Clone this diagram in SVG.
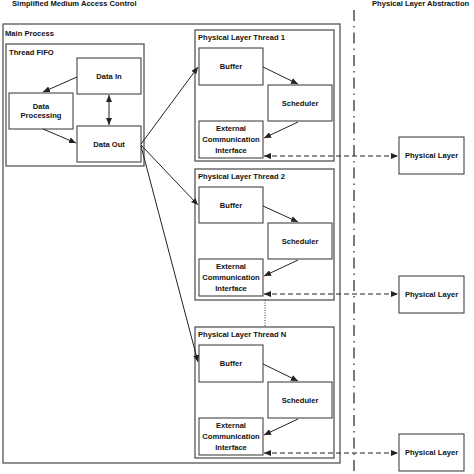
<svg xmlns="http://www.w3.org/2000/svg" width="474" height="474" viewBox="0 0 474 474">
<defs>
<marker id="ah" markerUnits="userSpaceOnUse" markerWidth="8" markerHeight="6" refX="7" refY="3" orient="auto-start-reverse">
<path d="M0,0 L7,3 L0,6 Z" fill="#222"/>
</marker>
</defs>
<style>
.box{fill:#fff;stroke:#444;stroke-width:1.1}
.grp{fill:#fff;stroke:#555;stroke-width:1.3}
.t{font-family:"Liberation Sans",Arial,sans-serif;font-weight:bold;font-size:7.6px;fill:#111}
.c{text-anchor:middle}
.ln{stroke:#222;stroke-width:1;fill:none}
.dash{stroke:#222;stroke-width:1;fill:none;stroke-dasharray:5 3}
</style>
<rect width="474" height="474" fill="#fff"/>
<text class="t" x="12" y="6">Simplified Medium Access Control</text>
<text class="t" x="372" y="6">Physical Layer Abstraction</text>
<line x1="354" y1="10" x2="354" y2="474" stroke="#222" stroke-width="1.2" stroke-dasharray="11 5 1.5 5"/>

<g id="main-process">
<rect class="grp" x="3" y="24" width="337" height="439"/>
<text class="t" x="5" y="36">Main Process</text>
</g>
<g id="thread-fifo">
<rect class="grp" x="6" y="44" width="138" height="122"/>
<text class="t" x="9" y="55">Thread FIFO</text>
</g>
<g id="data-in">
<rect class="box" x="77" y="58" width="64" height="36"/>
<text class="t c" x="109" y="79">Data In</text>
</g>
<g id="data-processing">
<rect class="box" x="9" y="93" width="64" height="36"/>
<text class="t c" x="41" y="109">Data</text>
<text class="t c" x="41" y="118">Processing</text>
</g>
<g id="data-out">
<rect class="box" x="77" y="126" width="64" height="36"/>
<text class="t c" x="109" y="147">Data Out</text>
</g>

<g id="plt1">
<rect class="grp" x="195" y="30" width="139" height="131"/>
<text class="t" x="198" y="40">Physical Layer Thread 1</text>
</g>
<g id="plt1-buffer">
<rect class="box" x="199" y="48" width="64" height="37"/>
<text class="t c" x="231" y="69">Buffer</text>
</g>
<g id="plt1-scheduler">
<rect class="box" x="268" y="85" width="64" height="36"/>
<text class="t c" x="300" y="106">Scheduler</text>
</g>
<g id="plt1-eci">
<rect class="box" x="199" y="121" width="64" height="37"/>
<text class="t c" x="231" y="131">External</text>
<text class="t c" x="231" y="142">Communication</text>
<text class="t c" x="231" y="153">Interface</text>
</g>

<g id="plt2">
<rect class="grp" x="195" y="169" width="139" height="131"/>
<text class="t" x="198" y="179">Physical Layer Thread 2</text>
</g>
<g id="plt2-buffer">
<rect class="box" x="199" y="187" width="64" height="36"/>
<text class="t c" x="231" y="208">Buffer</text>
</g>
<g id="plt2-scheduler">
<rect class="box" x="268" y="223" width="64" height="36"/>
<text class="t c" x="300" y="244">Scheduler</text>
</g>
<g id="plt2-eci">
<rect class="box" x="199" y="259" width="64" height="37"/>
<text class="t c" x="231" y="269">External</text>
<text class="t c" x="231" y="280">Communication</text>
<text class="t c" x="231" y="291">Interface</text>
</g>

<g id="pltn">
<rect class="grp" x="195" y="327" width="139" height="131"/>
<text class="t" x="198" y="337">Physical Layer Thread N</text>
</g>
<g id="pltn-buffer">
<rect class="box" x="199" y="345" width="64" height="37"/>
<text class="t c" x="231" y="366">Buffer</text>
</g>
<g id="pltn-scheduler">
<rect class="box" x="268" y="382" width="64" height="36"/>
<text class="t c" x="300" y="403">Scheduler</text>
</g>
<g id="pltn-eci">
<rect class="box" x="199" y="418" width="64" height="37"/>
<text class="t c" x="231" y="428">External</text>
<text class="t c" x="231" y="439">Communication</text>
<text class="t c" x="231" y="450">Interface</text>
</g>

<g id="phy1">
<rect class="box" x="399" y="137" width="65" height="37"/>
<text class="t c" x="431.5" y="158">Physical Layer</text>
</g>
<g id="phy2">
<rect class="box" x="399" y="276" width="65" height="37"/>
<text class="t c" x="431.5" y="297">Physical Layer</text>
</g>
<g id="phyn">
<rect class="box" x="399" y="434" width="65" height="37"/>
<text class="t c" x="431.5" y="455">Physical Layer</text>
</g>

<g id="connectors">
<line class="ln" x1="77" y1="77" x2="43" y2="92" marker-end="url(#ah)"/>
<line class="ln" x1="43" y1="129" x2="76" y2="143" marker-end="url(#ah)"/>
<line class="ln" x1="109" y1="95" x2="109" y2="125" marker-start="url(#ah)" marker-end="url(#ah)"/>
<line class="ln" x1="141" y1="144" x2="198" y2="67" marker-end="url(#ah)"/>
<line class="ln" x1="141" y1="145" x2="198" y2="205" marker-end="url(#ah)"/>
<line class="ln" x1="141" y1="146" x2="198" y2="362" marker-end="url(#ah)"/>

<line class="ln" x1="263" y1="67" x2="298" y2="84" marker-end="url(#ah)"/>
<line class="ln" x1="298" y1="122" x2="264" y2="138" marker-end="url(#ah)"/>
<line class="ln" x1="263" y1="206" x2="298" y2="222" marker-end="url(#ah)"/>
<line class="ln" x1="298" y1="260" x2="264" y2="276" marker-end="url(#ah)"/>
<line class="ln" x1="263" y1="364" x2="298" y2="381" marker-end="url(#ah)"/>
<line class="ln" x1="298" y1="419" x2="264" y2="435" marker-end="url(#ah)"/>

<line class="dash" x1="264" y1="156" x2="398" y2="156" marker-start="url(#ah)" marker-end="url(#ah)"/>
<line class="dash" x1="264" y1="294" x2="398" y2="294" marker-start="url(#ah)" marker-end="url(#ah)"/>
<line class="dash" x1="264" y1="453" x2="398" y2="453" marker-start="url(#ah)" marker-end="url(#ah)"/>

<line x1="265" y1="300" x2="265" y2="327" stroke="#333" stroke-width="1" stroke-dasharray="1 1.5"/>
</g>
</svg>
